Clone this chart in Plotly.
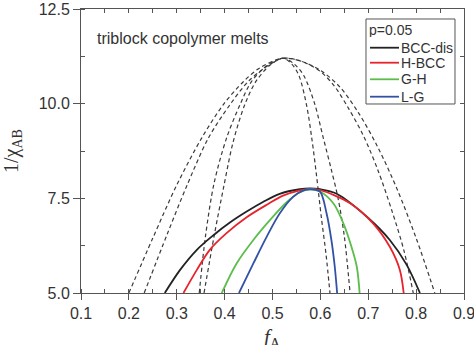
import plotly.graph_objects as go

# ---- phase boundaries, p = 0.05 (solid) ----
bcc_dis_f   = [0.275, 0.307, 0.342, 0.376, 0.411, 0.446, 0.481, 0.515, 0.557, 0.578, 0.599, 0.634, 0.700, 0.745, 0.780, 0.808]
bcc_dis_chi = [5.00, 5.61, 6.14, 6.52, 6.86, 7.15, 7.41, 7.62, 7.74, 7.76, 7.74, 7.62, 6.98, 6.40, 5.75, 5.00]

h_bcc_f   = [0.314, 0.342, 0.369, 0.404, 0.446, 0.488, 0.522, 0.557, 0.578, 0.599, 0.662, 0.710, 0.745, 0.766, 0.774]
h_bcc_chi = [5.00, 5.61, 6.14, 6.58, 7.00, 7.33, 7.57, 7.71, 7.75, 7.72, 7.37, 6.84, 6.22, 5.61, 5.00]

g_h_f   = [0.394, 0.425, 0.460, 0.495, 0.529, 0.557, 0.578, 0.599, 0.627, 0.648, 0.665, 0.676, 0.682]
g_h_chi = [5.00, 5.78, 6.40, 6.93, 7.39, 7.66, 7.74, 7.68, 7.37, 6.84, 6.22, 5.70, 5.00]

l_g_f   = [0.430, 0.460, 0.488, 0.515, 0.543, 0.565, 0.580, 0.599, 0.613, 0.623, 0.630, 0.635]
l_g_chi = [5.00, 5.78, 6.49, 7.10, 7.54, 7.71, 7.74, 7.68, 7.10, 6.40, 5.70, 5.00]

# ---- companion boundaries (dashed) ----
d1_f   = [0.200, 0.250, 0.300, 0.352, 0.397, 0.439, 0.474, 0.522, 0.560, 0.600, 0.640, 0.680, 0.720, 0.760, 0.800, 0.839]
d1_chi = [5.00, 6.45, 7.85, 9.09, 9.97, 10.58, 10.95, 11.20, 11.12, 10.88, 10.45, 9.75, 8.85, 7.75, 6.45, 5.00]

d2_f   = [0.232, 0.280, 0.320, 0.366, 0.411, 0.449, 0.490, 0.522, 0.560, 0.600, 0.630, 0.660, 0.690, 0.720, 0.750, 0.775, 0.794]
d2_chi = [5.00, 6.55, 7.80, 9.09, 9.97, 10.58, 11.00, 11.20, 11.12, 10.85, 10.45, 9.85, 9.15, 8.25, 7.15, 6.10, 5.00]

d3_f   = [0.347, 0.360, 0.378, 0.404, 0.432, 0.456, 0.488, 0.522, 0.545, 0.565, 0.588, 0.605, 0.622, 0.637, 0.650, 0.662]
d3_chi = [5.00, 6.50, 7.90, 9.09, 9.97, 10.58, 11.00, 11.20, 11.05, 10.75, 10.00, 9.15, 8.30, 7.50, 6.50, 5.00]

d4_f   = [0.357, 0.378, 0.398, 0.418, 0.442, 0.465, 0.495, 0.522, 0.540, 0.555, 0.571, 0.582, 0.592, 0.602, 0.612, 0.620]
d4_chi = [5.00, 6.50, 7.80, 9.00, 9.97, 10.58, 11.02, 11.20, 11.05, 10.75, 9.97, 9.09, 8.10, 7.00, 6.00, 5.00]

solid_names  = ["BCC-dis", "H-BCC", "G-H", "L-G"]
solid_colors = ["#222222", "#e8232b", "#5cbd4c", "#3352a6"]
solid_f      = [bcc_dis_f, h_bcc_f, g_h_f, l_g_f]
solid_chi    = [bcc_dis_chi, h_bcc_chi, g_h_chi, l_g_chi]

dashed_f   = [d1_f, d2_f, d3_f, d4_f]
dashed_chi = [d1_chi, d2_chi, d3_chi, d4_chi]

x_ticks = [0.1, 0.2, 0.3, 0.4, 0.5, 0.6, 0.7, 0.8, 0.9]
y_ticks = [5.0, 7.5, 10.0, 12.5]

sans = "Liberation Sans, Arial, sans-serif"
serif = "Liberation Serif, Times New Roman, serif"
ink = "#333333"
frame = "#555555"

fig = go.Figure()

for fx, cy in zip(dashed_f, dashed_chi):
    fig.add_trace(go.Scatter(
        x=fx, y=cy, mode="lines", line_shape="spline",
        line=dict(color="#3a3a3a", width=1.2, dash="4px,3px", smoothing=0.9),
        showlegend=False, hoverinfo="skip"))

for name, color, fx, cy in zip(solid_names, solid_colors, solid_f, solid_chi):
    fig.add_trace(go.Scatter(
        x=fx, y=cy, mode="lines", name=name, line_shape="spline",
        line=dict(color=color, width=1.8, smoothing=0.9), showlegend=False))

# empty trace that carries the top/right tick axes
fig.add_trace(go.Scatter(x=[None], y=[None], xaxis="x2", yaxis="y2",
                         showlegend=False, hoverinfo="skip"))

axis_line = dict(showline=True, linecolor=frame, linewidth=1, mirror=True,
                 showgrid=False, zeroline=False, automargin=False)

fig.update_layout(
    width=474, height=345,
    margin=dict(l=81, r=10, t=9, b=52),
    paper_bgcolor="white", plot_bgcolor="white",
    xaxis=dict(range=[0.1, 0.9], tickvals=x_ticks,
               ticktext=[f"{v:.1f}" for v in x_ticks],
               ticks="outside", ticklen=6, tickcolor=frame,
               ticklabeloverflow="allow",
               minor=dict(dtick=0.05, tick0=0.1, ticks="inside", ticklen=4, tickcolor=frame),
               tickfont=dict(family=sans, size=16, color=ink),
               **axis_line),
    yaxis=dict(range=[5.0, 12.5], tickvals=y_ticks,
               ticktext=[f"{v:.1f}" for v in y_ticks],
               ticks="outside", ticklen=7, tickcolor=frame,
               minor=dict(dtick=1.25, tick0=5.0, ticks="inside", ticklen=4, tickcolor=frame),
               tickfont=dict(family=sans, size=16, color=ink),
               title=dict(text="1/χ<sub>AB</sub>", font=dict(family=serif, size=20, color=ink),
                          standoff=15),
               **axis_line),
    xaxis2=dict(overlaying="x", side="top", range=[0.1, 0.9], dtick=0.05, tick0=0.1,
                ticks="inside", ticklen=4, tickcolor=frame, showticklabels=False,
                showgrid=False, zeroline=False, showline=False, automargin=False),
    yaxis2=dict(overlaying="y", side="right", range=[5.0, 12.5], dtick=1.25, tick0=5.0,
                ticks="inside", ticklen=4, tickcolor=frame, showticklabels=False,
                showgrid=False, zeroline=False, showline=False, automargin=False),
)

# x-axis title, set low under the tick labels
fig.add_annotation(text="<i>f</i><sub>A</sub>", xref="paper", yref="paper",
                   x=0.5, y=-0.105, xanchor="center", yanchor="top", showarrow=False,
                   font=dict(family=serif, size=21, color=ink))

fig.add_annotation(text="triblock copolymer melts", xref="paper", yref="paper",
                   x=0.036, y=0.896, xanchor="left", yanchor="middle", showarrow=False,
                   font=dict(family=sans, size=16, color=ink))

# legend box drawn in paper coordinates
fig.add_shape(type="rect", xref="paper", yref="paper",
              x0=0.7441, x1=0.9765, y0=0.6655, y1=0.9648,
              line=dict(color=frame, width=1), fillcolor="white", layer="above")
fig.add_annotation(text="p=0.05", xref="paper", yref="paper", x=0.750, y=0.925,
                   xanchor="left", yanchor="middle", showarrow=False,
                   height=14, borderpad=0,
                   font=dict(family=sans, size=14, color=ink))
legend_rows = [0.8637, 0.8109, 0.7525, 0.6912]
for name, color, ry in zip(solid_names, solid_colors, legend_rows):
    fig.add_shape(type="line", xref="paper", yref="paper",
                  x0=0.7546, x1=0.8303, y0=ry, y1=ry,
                  line=dict(color=color, width=1.8), layer="above")
    fig.add_annotation(text=name, xref="paper", yref="paper", x=0.8329, y=ry,
                       xanchor="left", yanchor="middle", showarrow=False,
                       height=14, borderpad=0,
                       font=dict(family=sans, size=14, color=ink))

fig.write_html("out.html")
